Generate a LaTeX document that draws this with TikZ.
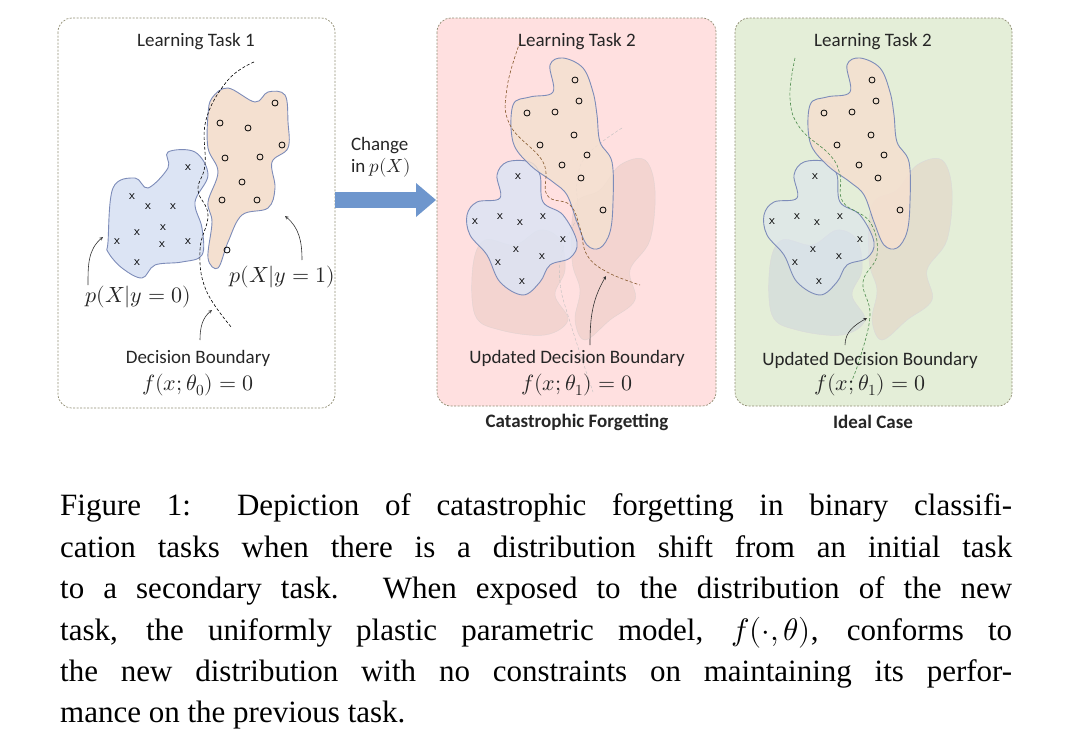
\documentclass[tikz,border=0pt]{standalone}
\usepackage{fontspec}
\setmainfont{Liberation Serif}
\newfontfamily\calf{Carlito}
\usepackage{amsmath}
\usepackage{unicode-math}
\setmathfont{Latin Modern Math}
\definecolor{bord}{RGB}{125,140,185}
\definecolor{bfill}{RGB}{220,228,244}
\definecolor{ofill}{RGB}{244,224,208}
\definecolor{arr}{RGB}{110,150,205}
\begin{document}
\begin{tikzpicture}[x=1pt,y=-1pt,
  panel/.style={draw=gray!80!olive,dashed,dash pattern=on 2pt off 1.5pt,rounded corners=14pt,line width=0.7pt},
  lbl/.style={font=\calf\fontsize{19}{22}\selectfont,inner sep=0,text=black!85},
  mth/.style={font=\fontsize{22}{24}\selectfont,inner sep=0,text=black!85},
  blueb/.style={draw=bord,fill=bfill,line width=0.9pt},
  orb/.style={draw=bord,fill=ofill,line width=0.9pt},
  ghost/.style={draw=gray!40,fill=brown!50!gray,fill opacity=0.12,draw opacity=0.5},
  bnd/.style={dashed,dash pattern=on 3pt off 2pt,line width=0.6pt},
  ptr/.style={->,>=stealth,line width=0.6pt,black!80},
  xm/.style={font=\sffamily\fontsize{13}{13}\selectfont,inner sep=0},
  capt/.style={anchor=base west,inner sep=0,font=\fontsize{31}{33}\selectfont}]
\useasboundingbox (0,0) rectangle (1080,736);
\def\blue{(108,242) (113,188) (135,178) (148,188) (168,168) (168,152) (195,152) (208,175) (195,202) (202,228) (202,255) (182,262) (155,265) (142,278) (122,268) (108,252)}
\def\orng{(212,98) (228,88) (255,102) (268,92) (285,95) (288,122) (288,148) (272,162) (275,188) (268,208) (242,215) (228,242) (218,268) (208,258) (212,222) (208,202) (218,172) (208,148) (208,115)}
\def\bluetwo{(467,215) (477,202) (500,198) (497,175) (507,162) (530,162) (540,175) (543,202) (563,215) (577,242) (570,258) (550,265) (540,282) (523,295) (500,282) (487,255) (470,235)}
\def\orngtwo{(513,105) (530,97) (553,92) (550,65) (563,58) (583,68) (593,92) (597,115) (600,142) (612,162) (613,202) (610,232) (600,248) (587,245) (577,222) (567,195) (553,182) (530,165) (513,142)}
\def\ghl{(473,265) (485,240) (515,245) (540,230) (560,240) (565,270) (555,295) (568,320) (545,335) (500,330) (475,315)}
\def\ghr{(575,205) (600,190) (620,165) (645,160) (655,190) (650,240) (630,270) (635,300) (610,320) (585,340) (575,320) (580,290) (572,260)}
% panels
\draw[panel] (58,18) rectangle (335,408);
\draw[panel,fill=red!12!white] (437,18) rectangle (716,406);
\draw[panel,fill={rgb,255:red,228;green,238;blue,216}] (735,18) rectangle (1012,406);
% arrow
\fill[arr] (335,192) rectangle (418,208);
\fill[arr] (416,183) -- (436,200) -- (416,217) -- cycle;
\node[lbl,align=left] (chg) at (381,157) {Change\\in $p(X)$};
% panel 1
\node[lbl] (t1) at (196,42) {Learning Task 1};
\draw[blueb] plot[smooth cycle,tension=0.6] coordinates {\blue};
\draw[orb] plot[smooth cycle,tension=0.6] coordinates {\orng};
\foreach \p in {(188,168),(132,197),(148,207),(173,207),(137,233),(163,228),(117,242),(162,245),(188,242),(137,263)} \node[xm] at \p {x};
\foreach \p in {(275,103),(220,123),(248,128),(225,158),(260,157),(282,145),(242,182),(222,200),(257,200),(227,250)} \draw[line width=0.8pt] \p circle (3);
\draw[bnd] plot[smooth,tension=0.7] coordinates {(254,62) (228,80) (206,120) (205,165) (198,190) (208,215) (200,250) (206,290) (232,328)};
\node[mth] (p0) at (138,297) {$p(X|y=0)$};
\node[mth] (p1) at (282,277) {$p(X|y=1)$};
\coordinate (a0) at (103,237); \coordinate (a1) at (285,216); \coordinate (ab) at (212,310);
\draw[ptr] (88,285) to[out=90,in=220] (a0);
\draw[ptr] (302,260) to[out=90,in=-40] (a1);
\draw[ptr] (200,340) to[out=90,in=220] (ab);
\node[lbl] (db) at (198,358) {Decision Boundary};
\node[mth] (f0) at (198,385) {$f(x;\theta_0)=0$};
% panel 2
\node[lbl] (t2) at (577,42) {Learning Task 2};
\draw[ghost] plot[smooth cycle,tension=0.6] coordinates {\ghl};
\draw[ghost] plot[smooth cycle,tension=0.6] coordinates {\ghr};
\draw[gray!50,bnd,line width=0.4pt] plot[smooth,tension=0.7] coordinates {(622,128) (587,155) (577,182) (577,215) (563,248) (560,282) (570,322) (593,392)};
\draw[blueb,fill opacity=0.85] plot[smooth cycle,tension=0.6] coordinates {\bluetwo};
\draw[orb,fill opacity=0.85] plot[smooth cycle,tension=0.6] coordinates {\orngtwo};
\foreach \p in {(518,177),(475,222),(500,217),(520,223),(543,217),(563,240),(516,250),(542,257),(498,263),(522,282)} \node[xm] at \p {x};
\foreach \p in {(575,80),(579,101),(527,113),(555,112),(574,135),(540,145),(587,155),(562,165),(581,178),(603,210)} \draw[line width=0.8pt] \p circle (3);
\draw[bnd,brown!70!black] plot[smooth,tension=0.7] coordinates {(520,42) (507,88) (510,125) (543,162) (547,195) (570,205) (580,228) (587,255) (607,272) (640,285)};
\coordinate (a2) at (606,276);
\draw[ptr] (590,345) to[out=90,in=240] (a2);
\node[lbl] (udb2) at (577,358) {Updated Decision Boundary};
\node[mth] (f1) at (577,385) {$f(x;\theta_1)=0$};
\node[lbl,font=\calf\bfseries\fontsize{19}{22}\selectfont] (cf) at (577,422) {Catastrophic Forgetting};
% panel 3
\node[lbl] (t3) at (873,42) {Learning Task 2};
\begin{scope}[xshift=297]
\draw[draw=gray!30,fill=bfill!80!gray,fill opacity=0.45] plot[smooth cycle,tension=0.6] coordinates {\ghl};
\draw[draw=gray!30,fill=ofill!85!gray,fill opacity=0.55] plot[smooth cycle,tension=0.6] coordinates {\ghr};
\draw[blueb,fill opacity=0.5] plot[smooth cycle,tension=0.6] coordinates {\bluetwo};
\draw[orb,fill opacity=0.9] plot[smooth cycle,tension=0.6] coordinates {\orngtwo};
\foreach \p in {(518,177),(475,222),(500,217),(520,223),(543,217),(563,240),(516,250),(542,257),(498,263),(522,282)} \node[xm] at \p {x};
\foreach \p in {(575,80),(579,101),(527,113),(555,112),(574,135),(540,145),(587,155),(562,165),(581,178),(603,210)} \draw[line width=0.8pt] \p circle (3);
\end{scope}
\draw[bnd,green!35!black!70] plot[smooth,tension=0.7] coordinates {(795,58) (790,98) (800,128) (830,155) (840,175) (843,202) (870,222) (877,255) (863,282) (870,315) (860,358) (850,385)};
\coordinate (a3) at (867,318);
\draw[ptr] (845,345) to[out=90,in=210] (a3);
\node[lbl] (udb3) at (870,360) {Updated Decision Boundary};
\node[mth] (f3) at (870,385) {$f(x;\theta_1)=0$};
\node[lbl,font=\calf\bfseries\fontsize{19}{22}\selectfont] (ic) at (873,422) {Ideal Case};
% caption
\node[capt] (c1) at (60,515) {\makebox[952pt][s]{Figure 1: Depiction of catastrophic forgetting in binary classifi-}};
\node[capt] (c2) at (60,557) {\makebox[952pt][s]{cation tasks when there is a distribution shift from an initial task}};
\node[capt] (c3) at (60,598) {\makebox[952pt][s]{to a secondary task. When exposed to the distribution of the new}};
\node[capt] (c4) at (60,640) {\makebox[952pt][s]{task, the uniformly plastic parametric model, $f(\cdot,\theta)$, conforms to}};
\node[capt] (c5) at (60,681) {\makebox[952pt][s]{the new distribution with no constraints on maintaining its perfor-}};
\node[capt] (c6) at (60,722) {mance on the previous task.};
\end{tikzpicture}
\end{document}
